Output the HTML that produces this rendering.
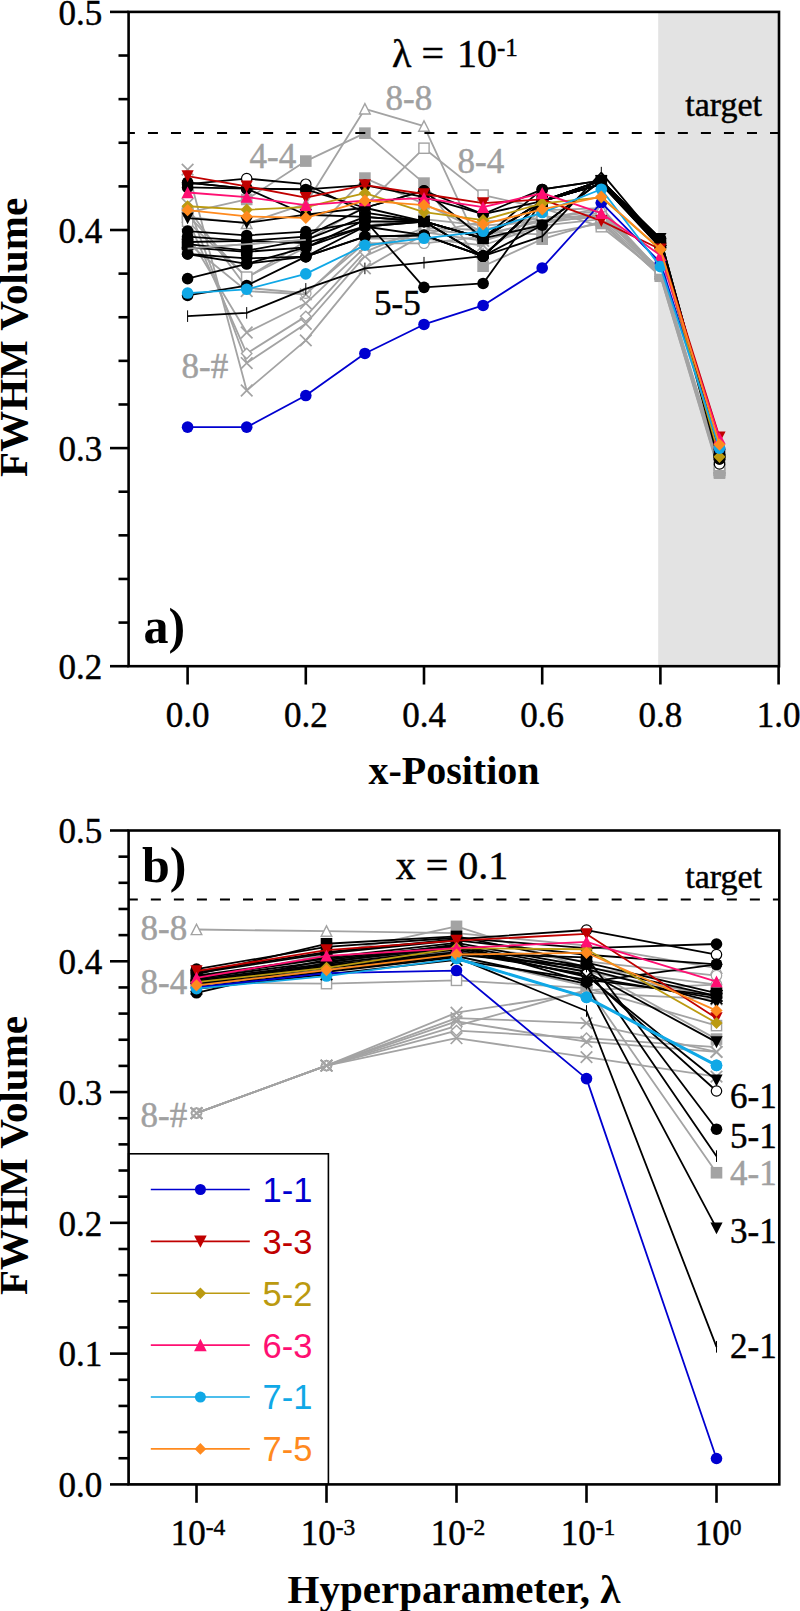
<!DOCTYPE html>
<html><head><meta charset="utf-8"><title>FWHM Volume</title>
<style>html,body{margin:0;padding:0;background:#fff;overflow:hidden;}svg{display:block;}</style>
</head><body>
<svg width="800" height="1611" viewBox="0 0 800 1611"><rect x="658.2" y="11.9" width="120.8" height="654.3" fill="#e3e3e3"/>
<path d="M187.6,169.59 L246.7,390.52 L305.8,340.36 L364.9,268.39 L424,234.36 L483.1,221.28 L542.2,219.09 L601.3,208.19 L660.4,273.62 L719.5,469.91" fill="none" stroke="#a3a3a3" stroke-width="1.8" stroke-linejoin="round"/><path d="M181.8,163.79L193.4,175.39M181.8,175.39L193.4,163.79" stroke="#a3a3a3" stroke-width="1.7" fill="none"/><path d="M240.9,384.72L252.5,396.32M240.9,396.32L252.5,384.72" stroke="#a3a3a3" stroke-width="1.7" fill="none"/><path d="M300,334.56L311.6,346.16M300,346.16L311.6,334.56" stroke="#a3a3a3" stroke-width="1.7" fill="none"/><path d="M359.1,262.59L370.7,274.19M359.1,274.19L370.7,262.59" stroke="#a3a3a3" stroke-width="1.7" fill="none"/><path d="M418.2,228.56L429.8,240.16M418.2,240.16L429.8,228.56" stroke="#a3a3a3" stroke-width="1.7" fill="none"/><path d="M477.3,215.48L488.9,227.08M477.3,227.08L488.9,215.48" stroke="#a3a3a3" stroke-width="1.7" fill="none"/><path d="M536.4,213.29L548,224.89M536.4,224.89L548,213.29" stroke="#a3a3a3" stroke-width="1.7" fill="none"/><path d="M595.5,202.39L607.1,213.99M595.5,213.99L607.1,202.39" stroke="#a3a3a3" stroke-width="1.7" fill="none"/><path d="M654.6,267.82L666.2,279.42M654.6,279.42L666.2,267.82" stroke="#a3a3a3" stroke-width="1.7" fill="none"/><path d="M713.7,464.11L725.3,475.71M713.7,475.71L725.3,464.11" stroke="#a3a3a3" stroke-width="1.7" fill="none"/>
<path d="M187.6,203.83 L246.7,363.04 L305.8,323.78 L364.9,256.17 L424,230 L483.1,234.36 L542.2,221.28 L601.3,212.55 L660.4,271.44 L719.5,467.73" fill="none" stroke="#a3a3a3" stroke-width="1.8" stroke-linejoin="round"/><path d="M181.8,198.03L193.4,209.63M181.8,209.63L193.4,198.03" stroke="#a3a3a3" stroke-width="1.7" fill="none"/><path d="M240.9,357.24L252.5,368.84M240.9,368.84L252.5,357.24" stroke="#a3a3a3" stroke-width="1.7" fill="none"/><path d="M300,317.98L311.6,329.58M300,329.58L311.6,317.98" stroke="#a3a3a3" stroke-width="1.7" fill="none"/><path d="M359.1,250.37L370.7,261.97M359.1,261.97L370.7,250.37" stroke="#a3a3a3" stroke-width="1.7" fill="none"/><path d="M418.2,224.2L429.8,235.8M418.2,235.8L429.8,224.2" stroke="#a3a3a3" stroke-width="1.7" fill="none"/><path d="M477.3,228.56L488.9,240.16M477.3,240.16L488.9,228.56" stroke="#a3a3a3" stroke-width="1.7" fill="none"/><path d="M536.4,215.48L548,227.08M536.4,227.08L548,215.48" stroke="#a3a3a3" stroke-width="1.7" fill="none"/><path d="M595.5,206.75L607.1,218.35M595.5,218.35L607.1,206.75" stroke="#a3a3a3" stroke-width="1.7" fill="none"/><path d="M654.6,265.64L666.2,277.24M654.6,277.24L666.2,265.64" stroke="#a3a3a3" stroke-width="1.7" fill="none"/><path d="M713.7,461.93L725.3,473.53M713.7,473.53L725.3,461.93" stroke="#a3a3a3" stroke-width="1.7" fill="none"/>
<path d="M187.6,219.09 L246.7,353.44 L305.8,316.37 L364.9,251.81 L424,227.82 L483.1,230 L542.2,216.91 L601.3,216.91 L660.4,269.26 L719.5,465.55" fill="none" stroke="#a3a3a3" stroke-width="1.8" stroke-linejoin="round"/><path d="M187.6,213.89L192.8,219.09L187.6,224.29L182.4,219.09Z" fill="#fff" stroke="#a3a3a3" stroke-width="1.4"/><path d="M246.7,348.24L251.9,353.44L246.7,358.64L241.5,353.44Z" fill="#fff" stroke="#a3a3a3" stroke-width="1.4"/><path d="M305.8,311.17L311,316.37L305.8,321.57L300.6,316.37Z" fill="#fff" stroke="#a3a3a3" stroke-width="1.4"/><path d="M364.9,246.61L370.1,251.81L364.9,257.01L359.7,251.81Z" fill="#fff" stroke="#a3a3a3" stroke-width="1.4"/><path d="M424,222.62L429.2,227.82L424,233.02L418.8,227.82Z" fill="#fff" stroke="#a3a3a3" stroke-width="1.4"/><path d="M483.1,224.8L488.3,230L483.1,235.2L477.9,230Z" fill="#fff" stroke="#a3a3a3" stroke-width="1.4"/><path d="M542.2,211.71L547.4,216.91L542.2,222.11L537,216.91Z" fill="#fff" stroke="#a3a3a3" stroke-width="1.4"/><path d="M601.3,211.71L606.5,216.91L601.3,222.11L596.1,216.91Z" fill="#fff" stroke="#a3a3a3" stroke-width="1.4"/><path d="M660.4,264.06L665.6,269.26L660.4,274.46L655.2,269.26Z" fill="#fff" stroke="#a3a3a3" stroke-width="1.4"/><path d="M719.5,460.35L724.7,465.55L719.5,470.75L714.3,465.55Z" fill="#fff" stroke="#a3a3a3" stroke-width="1.4"/>
<path d="M187.6,234.36 L246.7,332.51 L305.8,303.28 L364.9,247.45 L424,232.18 L483.1,240.91 L542.2,223.46 L601.3,214.73 L660.4,273.62 L719.5,469.91" fill="none" stroke="#a3a3a3" stroke-width="1.8" stroke-linejoin="round"/><path d="M181.8,228.56L193.4,240.16M181.8,240.16L193.4,228.56" stroke="#a3a3a3" stroke-width="1.7" fill="none"/><path d="M240.9,326.71L252.5,338.31M240.9,338.31L252.5,326.71" stroke="#a3a3a3" stroke-width="1.7" fill="none"/><path d="M300,297.48L311.6,309.08M300,309.08L311.6,297.48" stroke="#a3a3a3" stroke-width="1.7" fill="none"/><path d="M359.1,241.65L370.7,253.25M359.1,253.25L370.7,241.65" stroke="#a3a3a3" stroke-width="1.7" fill="none"/><path d="M418.2,226.38L429.8,237.98M418.2,237.98L429.8,226.38" stroke="#a3a3a3" stroke-width="1.7" fill="none"/><path d="M477.3,235.1L488.9,246.71M477.3,246.71L488.9,235.1" stroke="#a3a3a3" stroke-width="1.7" fill="none"/><path d="M536.4,217.66L548,229.26M536.4,229.26L548,217.66" stroke="#a3a3a3" stroke-width="1.7" fill="none"/><path d="M595.5,208.93L607.1,220.53M595.5,220.53L607.1,208.93" stroke="#a3a3a3" stroke-width="1.7" fill="none"/><path d="M654.6,267.82L666.2,279.42M654.6,279.42L666.2,267.82" stroke="#a3a3a3" stroke-width="1.7" fill="none"/><path d="M713.7,464.11L725.3,475.71M713.7,475.71L725.3,464.11" stroke="#a3a3a3" stroke-width="1.7" fill="none"/>
<path d="M187.6,208.19 L246.7,287.8 L305.8,293.25 L364.9,243.09 L424,243.3 L483.1,236.54 L542.2,219.09 L601.3,210.37 L660.4,271.44 L719.5,464.02" fill="none" stroke="#a3a3a3" stroke-width="1.8" stroke-linejoin="round"/><circle cx="187.6" cy="208.19" r="5.2" fill="#fff" stroke="#a3a3a3" stroke-width="1.2"/><circle cx="246.7" cy="287.8" r="5.2" fill="#fff" stroke="#a3a3a3" stroke-width="1.2"/><circle cx="305.8" cy="293.25" r="5.2" fill="#fff" stroke="#a3a3a3" stroke-width="1.2"/><circle cx="364.9" cy="243.09" r="5.2" fill="#fff" stroke="#a3a3a3" stroke-width="1.2"/><circle cx="424" cy="243.3" r="5.2" fill="#fff" stroke="#a3a3a3" stroke-width="1.2"/><circle cx="483.1" cy="236.54" r="5.2" fill="#fff" stroke="#a3a3a3" stroke-width="1.2"/><circle cx="542.2" cy="219.09" r="5.2" fill="#fff" stroke="#a3a3a3" stroke-width="1.2"/><circle cx="601.3" cy="210.37" r="5.2" fill="#fff" stroke="#a3a3a3" stroke-width="1.2"/><circle cx="660.4" cy="271.44" r="5.2" fill="#fff" stroke="#a3a3a3" stroke-width="1.2"/><circle cx="719.5" cy="464.02" r="5.2" fill="#fff" stroke="#a3a3a3" stroke-width="1.2"/>
<path d="M187.6,243.09 L246.7,291.07 L305.8,294.34 L364.9,238.72 L424,238.72 L483.1,245.27 L542.2,225.64 L601.3,219.09 L660.4,273.62 L719.5,467.73" fill="none" stroke="#a3a3a3" stroke-width="1.8" stroke-linejoin="round"/><path d="M181.8,237.29L193.4,248.89M181.8,248.89L193.4,237.29" stroke="#a3a3a3" stroke-width="1.7" fill="none"/><path d="M240.9,285.27L252.5,296.87M240.9,296.87L252.5,285.27" stroke="#a3a3a3" stroke-width="1.7" fill="none"/><path d="M300,288.54L311.6,300.14M300,300.14L311.6,288.54" stroke="#a3a3a3" stroke-width="1.7" fill="none"/><path d="M359.1,232.92L370.7,244.52M359.1,244.52L370.7,232.92" stroke="#a3a3a3" stroke-width="1.7" fill="none"/><path d="M418.2,232.92L429.8,244.52M418.2,244.52L429.8,232.92" stroke="#a3a3a3" stroke-width="1.7" fill="none"/><path d="M477.3,239.47L488.9,251.07M477.3,251.07L488.9,239.47" stroke="#a3a3a3" stroke-width="1.7" fill="none"/><path d="M536.4,219.84L548,231.44M536.4,231.44L548,219.84" stroke="#a3a3a3" stroke-width="1.7" fill="none"/><path d="M595.5,213.29L607.1,224.89M595.5,224.89L607.1,213.29" stroke="#a3a3a3" stroke-width="1.7" fill="none"/><path d="M654.6,267.82L666.2,279.42M654.6,279.42L666.2,267.82" stroke="#a3a3a3" stroke-width="1.7" fill="none"/><path d="M713.7,461.93L725.3,473.53M713.7,473.53L725.3,461.93" stroke="#a3a3a3" stroke-width="1.7" fill="none"/>
<path d="M187.6,216.91 L246.7,223.46 L305.8,203.83 L364.9,108.95 L424,126.18 L483.1,253.99 L542.2,210.37 L601.3,208.19 L660.4,271.44 L719.5,467.73" fill="none" stroke="#a3a3a3" stroke-width="1.8" stroke-linejoin="round"/><path d="M182.3,222.01H192.9L187.6,211.61Z" fill="#fff" stroke="#a3a3a3" stroke-width="1.4"/><path d="M241.4,228.56H252L246.7,218.16Z" fill="#fff" stroke="#a3a3a3" stroke-width="1.4"/><path d="M300.5,208.93H311.1L305.8,198.53Z" fill="#fff" stroke="#a3a3a3" stroke-width="1.4"/><path d="M359.6,114.05H370.2L364.9,103.65Z" fill="#fff" stroke="#a3a3a3" stroke-width="1.4"/><path d="M418.7,131.28H429.3L424,120.88Z" fill="#fff" stroke="#a3a3a3" stroke-width="1.4"/><path d="M477.8,259.09H488.4L483.1,248.69Z" fill="#fff" stroke="#a3a3a3" stroke-width="1.4"/><path d="M536.9,215.47H547.5L542.2,205.07Z" fill="#fff" stroke="#a3a3a3" stroke-width="1.4"/><path d="M596,213.29H606.6L601.3,202.89Z" fill="#fff" stroke="#a3a3a3" stroke-width="1.4"/><path d="M655.1,276.54H665.7L660.4,266.14Z" fill="#fff" stroke="#a3a3a3" stroke-width="1.4"/><path d="M714.2,472.83H724.8L719.5,462.43Z" fill="#fff" stroke="#a3a3a3" stroke-width="1.4"/>
<path d="M187.6,214.73 L246.7,277.98 L305.8,240.91 L364.9,206.01 L424,148.21 L483.1,195.1 L542.2,208.19 L601.3,226.73 L660.4,273.62 L719.5,467.73" fill="none" stroke="#a3a3a3" stroke-width="1.8" stroke-linejoin="round"/><rect x="182.5" y="209.63" width="10.2" height="10.2" fill="#fff" stroke="#a3a3a3" stroke-width="1.4"/><rect x="241.6" y="272.88" width="10.2" height="10.2" fill="#fff" stroke="#a3a3a3" stroke-width="1.4"/><rect x="300.7" y="235.8" width="10.2" height="10.2" fill="#fff" stroke="#a3a3a3" stroke-width="1.4"/><rect x="359.8" y="200.91" width="10.2" height="10.2" fill="#fff" stroke="#a3a3a3" stroke-width="1.4"/><rect x="418.9" y="143.11" width="10.2" height="10.2" fill="#fff" stroke="#a3a3a3" stroke-width="1.4"/><rect x="478" y="190" width="10.2" height="10.2" fill="#fff" stroke="#a3a3a3" stroke-width="1.4"/><rect x="537.1" y="203.09" width="10.2" height="10.2" fill="#fff" stroke="#a3a3a3" stroke-width="1.4"/><rect x="596.2" y="221.63" width="10.2" height="10.2" fill="#fff" stroke="#a3a3a3" stroke-width="1.4"/><rect x="655.3" y="268.52" width="10.2" height="10.2" fill="#fff" stroke="#a3a3a3" stroke-width="1.4"/><rect x="714.4" y="462.63" width="10.2" height="10.2" fill="#fff" stroke="#a3a3a3" stroke-width="1.4"/>
<path d="M187.6,212.55 L246.7,199.47 L305.8,161.08 L364.9,133.16 L424,183.11 L483.1,266.2 L542.2,239.16 L601.3,221.28 L660.4,276.24 L719.5,473.18" fill="none" stroke="#a3a3a3" stroke-width="1.8" stroke-linejoin="round"/><rect x="181.8" y="206.75" width="11.6" height="11.6" fill="#a3a3a3"/><rect x="240.9" y="193.67" width="11.6" height="11.6" fill="#a3a3a3"/><rect x="300" y="155.28" width="11.6" height="11.6" fill="#a3a3a3"/><rect x="359.1" y="127.36" width="11.6" height="11.6" fill="#a3a3a3"/><rect x="418.2" y="177.31" width="11.6" height="11.6" fill="#a3a3a3"/><rect x="477.3" y="260.4" width="11.6" height="11.6" fill="#a3a3a3"/><rect x="536.4" y="233.36" width="11.6" height="11.6" fill="#a3a3a3"/><rect x="595.5" y="215.48" width="11.6" height="11.6" fill="#a3a3a3"/><rect x="654.6" y="270.44" width="11.6" height="11.6" fill="#a3a3a3"/><rect x="713.7" y="467.38" width="11.6" height="11.6" fill="#a3a3a3"/>
<path d="M187.6,248.54 L246.7,244.18 L305.8,239.81 L364.9,178.09 L424,203.83 L483.1,232.18 L542.2,234.36 L601.3,223.46 L660.4,275.8 L719.5,472.09" fill="none" stroke="#a3a3a3" stroke-width="1.8" stroke-linejoin="round"/><rect x="181.8" y="242.74" width="11.6" height="11.6" fill="#a3a3a3"/><rect x="240.9" y="238.38" width="11.6" height="11.6" fill="#a3a3a3"/><rect x="300" y="234.01" width="11.6" height="11.6" fill="#a3a3a3"/><rect x="359.1" y="172.29" width="11.6" height="11.6" fill="#a3a3a3"/><rect x="418.2" y="198.03" width="11.6" height="11.6" fill="#a3a3a3"/><rect x="477.3" y="226.38" width="11.6" height="11.6" fill="#a3a3a3"/><rect x="536.4" y="228.56" width="11.6" height="11.6" fill="#a3a3a3"/><rect x="595.5" y="217.66" width="11.6" height="11.6" fill="#a3a3a3"/><rect x="654.6" y="270" width="11.6" height="11.6" fill="#a3a3a3"/><rect x="713.7" y="466.29" width="11.6" height="11.6" fill="#a3a3a3"/>
<path d="M187.6,221.28 L246.7,277.11 L305.8,247.45 L364.9,225.64 L424,219.09 L483.1,225.64 L542.2,221.28 L601.3,216.91 L660.4,269.26 L719.5,465.55" fill="none" stroke="#a3a3a3" stroke-width="1.8" stroke-linejoin="round"/><rect x="182.5" y="216.18" width="10.2" height="10.2" fill="#fff" stroke="#a3a3a3" stroke-width="1.4"/><rect x="241.6" y="272.01" width="10.2" height="10.2" fill="#fff" stroke="#a3a3a3" stroke-width="1.4"/><rect x="300.7" y="242.35" width="10.2" height="10.2" fill="#fff" stroke="#a3a3a3" stroke-width="1.4"/><rect x="359.8" y="220.54" width="10.2" height="10.2" fill="#fff" stroke="#a3a3a3" stroke-width="1.4"/><rect x="418.9" y="213.99" width="10.2" height="10.2" fill="#fff" stroke="#a3a3a3" stroke-width="1.4"/><rect x="478" y="220.54" width="10.2" height="10.2" fill="#fff" stroke="#a3a3a3" stroke-width="1.4"/><rect x="537.1" y="216.18" width="10.2" height="10.2" fill="#fff" stroke="#a3a3a3" stroke-width="1.4"/><rect x="596.2" y="211.81" width="10.2" height="10.2" fill="#fff" stroke="#a3a3a3" stroke-width="1.4"/><rect x="655.3" y="264.16" width="10.2" height="10.2" fill="#fff" stroke="#a3a3a3" stroke-width="1.4"/><rect x="714.4" y="460.45" width="10.2" height="10.2" fill="#fff" stroke="#a3a3a3" stroke-width="1.4"/>
<path d="M187.6,182.67 L246.7,188.56 L305.8,189.43 L364.9,207.75 L424,190.74 L483.1,214.08 L542.2,189.43 L601.3,180.71 L660.4,238.72 L719.5,454.64" fill="none" stroke="#000" stroke-width="1.8" stroke-linejoin="round"/><circle cx="187.6" cy="182.67" r="5.8" fill="#000"/><circle cx="246.7" cy="188.56" r="5.8" fill="#000"/><circle cx="305.8" cy="189.43" r="5.8" fill="#000"/><circle cx="364.9" cy="207.75" r="5.8" fill="#000"/><circle cx="424" cy="190.74" r="5.8" fill="#000"/><circle cx="483.1" cy="214.08" r="5.8" fill="#000"/><circle cx="542.2" cy="189.43" r="5.8" fill="#000"/><circle cx="601.3" cy="180.71" r="5.8" fill="#000"/><circle cx="660.4" cy="238.72" r="5.8" fill="#000"/><circle cx="719.5" cy="454.64" r="5.8" fill="#000"/>
<path d="M187.6,184.2 L246.7,178.53 L305.8,184.2 L364.9,212.55 L424,221.49 L483.1,238.29 L542.2,201.21 L601.3,184.2 L660.4,243.09 L719.5,464.02" fill="none" stroke="#000" stroke-width="1.8" stroke-linejoin="round"/><circle cx="187.6" cy="184.2" r="5.2" fill="#fff" stroke="#000" stroke-width="1.2"/><circle cx="246.7" cy="178.53" r="5.2" fill="#fff" stroke="#000" stroke-width="1.2"/><circle cx="305.8" cy="184.2" r="5.2" fill="#fff" stroke="#000" stroke-width="1.2"/><circle cx="364.9" cy="212.55" r="5.2" fill="#fff" stroke="#000" stroke-width="1.2"/><circle cx="424" cy="221.49" r="5.2" fill="#fff" stroke="#000" stroke-width="1.2"/><circle cx="483.1" cy="238.29" r="5.2" fill="#fff" stroke="#000" stroke-width="1.2"/><circle cx="542.2" cy="201.21" r="5.2" fill="#fff" stroke="#000" stroke-width="1.2"/><circle cx="601.3" cy="184.2" r="5.2" fill="#fff" stroke="#000" stroke-width="1.2"/><circle cx="660.4" cy="243.09" r="5.2" fill="#fff" stroke="#000" stroke-width="1.2"/><circle cx="719.5" cy="464.02" r="5.2" fill="#fff" stroke="#000" stroke-width="1.2"/>
<path d="M187.6,187.47 L246.7,188.56 L305.8,214.73 L364.9,216.91 L424,221.49 L483.1,256.17 L542.2,201.21 L601.3,180.71 L660.4,240.91 L719.5,456.82" fill="none" stroke="#000" stroke-width="1.8" stroke-linejoin="round"/><circle cx="187.6" cy="187.47" r="5.8" fill="#000"/><circle cx="246.7" cy="188.56" r="5.8" fill="#000"/><circle cx="305.8" cy="214.73" r="5.8" fill="#000"/><circle cx="364.9" cy="216.91" r="5.8" fill="#000"/><circle cx="424" cy="221.49" r="5.8" fill="#000"/><circle cx="483.1" cy="256.17" r="5.8" fill="#000"/><circle cx="542.2" cy="201.21" r="5.8" fill="#000"/><circle cx="601.3" cy="180.71" r="5.8" fill="#000"/><circle cx="660.4" cy="240.91" r="5.8" fill="#000"/><circle cx="719.5" cy="456.82" r="5.8" fill="#000"/>
<path d="M187.6,218.22 L246.7,222.8 L305.8,214.73 L364.9,207.75 L424,221.49 L483.1,238.29 L542.2,225.2 L601.3,180.71 L660.4,238.72 L719.5,454.64" fill="none" stroke="#000" stroke-width="1.8" stroke-linejoin="round"/><path d="M181.5,212.42H193.7L187.6,224.32Z" fill="#000"/><path d="M240.6,217H252.8L246.7,228.9Z" fill="#000"/><path d="M299.7,208.93H311.9L305.8,220.83Z" fill="#000"/><path d="M358.8,201.95H371L364.9,213.85Z" fill="#000"/><path d="M417.9,215.69H430.1L424,227.59Z" fill="#000"/><path d="M477,232.49H489.2L483.1,244.39Z" fill="#000"/><path d="M536.1,219.4H548.3L542.2,231.3Z" fill="#000"/><path d="M595.2,174.91H607.4L601.3,186.81Z" fill="#000"/><path d="M654.3,232.92H666.5L660.4,244.82Z" fill="#000"/><path d="M713.4,448.84H725.6L719.5,460.74Z" fill="#000"/>
<path d="M187.6,231.09 L246.7,235.45 L305.8,231.53 L364.9,221.28 L424,221.49 L483.1,256.17 L542.2,201.21 L601.3,184.2 L660.4,245.27 L719.5,456.82" fill="none" stroke="#000" stroke-width="1.8" stroke-linejoin="round"/><circle cx="187.6" cy="231.09" r="5.8" fill="#000"/><circle cx="246.7" cy="235.45" r="5.8" fill="#000"/><circle cx="305.8" cy="231.53" r="5.8" fill="#000"/><circle cx="364.9" cy="221.28" r="5.8" fill="#000"/><circle cx="424" cy="221.49" r="5.8" fill="#000"/><circle cx="483.1" cy="256.17" r="5.8" fill="#000"/><circle cx="542.2" cy="201.21" r="5.8" fill="#000"/><circle cx="601.3" cy="184.2" r="5.8" fill="#000"/><circle cx="660.4" cy="245.27" r="5.8" fill="#000"/><circle cx="719.5" cy="456.82" r="5.8" fill="#000"/>
<path d="M187.6,236.54 L246.7,240.91 L305.8,236.54 L364.9,207.75 L424,190.74 L483.1,238.29 L542.2,189.43 L601.3,180.71 L660.4,243.09 L719.5,454.64" fill="none" stroke="#000" stroke-width="1.8" stroke-linejoin="round"/><circle cx="187.6" cy="236.54" r="5.8" fill="#000"/><circle cx="246.7" cy="240.91" r="5.8" fill="#000"/><circle cx="305.8" cy="236.54" r="5.8" fill="#000"/><circle cx="364.9" cy="207.75" r="5.8" fill="#000"/><circle cx="424" cy="190.74" r="5.8" fill="#000"/><circle cx="483.1" cy="238.29" r="5.8" fill="#000"/><circle cx="542.2" cy="189.43" r="5.8" fill="#000"/><circle cx="601.3" cy="180.71" r="5.8" fill="#000"/><circle cx="660.4" cy="243.09" r="5.8" fill="#000"/><circle cx="719.5" cy="454.64" r="5.8" fill="#000"/>
<path d="M187.6,242 L246.7,240.91 L305.8,243.09 L364.9,226.51 L424,235.23 L483.1,256.17 L542.2,201.21 L601.3,180.71 L660.4,245.27 L719.5,459.01" fill="none" stroke="#000" stroke-width="1.8" stroke-linejoin="round"/><circle cx="187.6" cy="242" r="5.8" fill="#000"/><circle cx="246.7" cy="240.91" r="5.8" fill="#000"/><circle cx="305.8" cy="243.09" r="5.8" fill="#000"/><circle cx="364.9" cy="226.51" r="5.8" fill="#000"/><circle cx="424" cy="235.23" r="5.8" fill="#000"/><circle cx="483.1" cy="256.17" r="5.8" fill="#000"/><circle cx="542.2" cy="201.21" r="5.8" fill="#000"/><circle cx="601.3" cy="180.71" r="5.8" fill="#000"/><circle cx="660.4" cy="245.27" r="5.8" fill="#000"/><circle cx="719.5" cy="459.01" r="5.8" fill="#000"/>
<path d="M187.6,247.45 L246.7,251.81 L305.8,247.45 L364.9,226.51 L424,221.49 L483.1,256.17 L542.2,201.21 L601.3,184.2 L660.4,247.45 L719.5,456.82" fill="none" stroke="#000" stroke-width="1.8" stroke-linejoin="round"/><circle cx="187.6" cy="247.45" r="5.8" fill="#000"/><circle cx="246.7" cy="251.81" r="5.8" fill="#000"/><circle cx="305.8" cy="247.45" r="5.8" fill="#000"/><circle cx="364.9" cy="226.51" r="5.8" fill="#000"/><circle cx="424" cy="221.49" r="5.8" fill="#000"/><circle cx="483.1" cy="256.17" r="5.8" fill="#000"/><circle cx="542.2" cy="201.21" r="5.8" fill="#000"/><circle cx="601.3" cy="184.2" r="5.8" fill="#000"/><circle cx="660.4" cy="247.45" r="5.8" fill="#000"/><circle cx="719.5" cy="456.82" r="5.8" fill="#000"/>
<path d="M187.6,244.18 L246.7,250.72 L305.8,239.81 L364.9,216.91 L424,221.49 L483.1,238.29 L542.2,201.21 L601.3,180.71 L660.4,243.09 L719.5,454.64" fill="none" stroke="#000" stroke-width="1.8" stroke-linejoin="round"/><rect x="181.8" y="238.38" width="11.6" height="11.6" fill="#000"/><rect x="240.9" y="244.92" width="11.6" height="11.6" fill="#000"/><rect x="300" y="234.01" width="11.6" height="11.6" fill="#000"/><rect x="359.1" y="211.11" width="11.6" height="11.6" fill="#000"/><rect x="418.2" y="215.69" width="11.6" height="11.6" fill="#000"/><rect x="477.3" y="232.49" width="11.6" height="11.6" fill="#000"/><rect x="536.4" y="195.41" width="11.6" height="11.6" fill="#000"/><rect x="595.5" y="174.91" width="11.6" height="11.6" fill="#000"/><rect x="654.6" y="237.29" width="11.6" height="11.6" fill="#000"/><rect x="713.7" y="448.84" width="11.6" height="11.6" fill="#000"/>
<path d="M187.6,253.99 L246.7,258.35 L305.8,256.61 L364.9,236.54 L424,235.23 L483.1,256.17 L542.2,201.21 L601.3,184.2 L660.4,245.27 L719.5,456.82" fill="none" stroke="#000" stroke-width="1.8" stroke-linejoin="round"/><circle cx="187.6" cy="253.99" r="5.8" fill="#000"/><circle cx="246.7" cy="258.35" r="5.8" fill="#000"/><circle cx="305.8" cy="256.61" r="5.8" fill="#000"/><circle cx="364.9" cy="236.54" r="5.8" fill="#000"/><circle cx="424" cy="235.23" r="5.8" fill="#000"/><circle cx="483.1" cy="256.17" r="5.8" fill="#000"/><circle cx="542.2" cy="201.21" r="5.8" fill="#000"/><circle cx="601.3" cy="184.2" r="5.8" fill="#000"/><circle cx="660.4" cy="245.27" r="5.8" fill="#000"/><circle cx="719.5" cy="456.82" r="5.8" fill="#000"/>
<path d="M187.6,253.99 L246.7,263.81 L305.8,247.45 L364.9,220.19 L424,287.36 L483.1,283.43 L542.2,201.21 L601.3,184.2 L660.4,247.45 L719.5,456.82" fill="none" stroke="#000" stroke-width="1.8" stroke-linejoin="round"/><circle cx="187.6" cy="253.99" r="5.8" fill="#000"/><circle cx="246.7" cy="263.81" r="5.8" fill="#000"/><circle cx="305.8" cy="247.45" r="5.8" fill="#000"/><circle cx="364.9" cy="220.19" r="5.8" fill="#000"/><circle cx="424" cy="287.36" r="5.8" fill="#000"/><circle cx="483.1" cy="283.43" r="5.8" fill="#000"/><circle cx="542.2" cy="201.21" r="5.8" fill="#000"/><circle cx="601.3" cy="184.2" r="5.8" fill="#000"/><circle cx="660.4" cy="247.45" r="5.8" fill="#000"/><circle cx="719.5" cy="456.82" r="5.8" fill="#000"/>
<path d="M187.6,278.64 L246.7,263.81 L305.8,256.61 L364.9,236.54 L424,235.23 L483.1,256.17 L542.2,225.2 L601.3,180.71 L660.4,245.27 L719.5,459.01" fill="none" stroke="#000" stroke-width="1.8" stroke-linejoin="round"/><circle cx="187.6" cy="278.64" r="5.8" fill="#000"/><circle cx="246.7" cy="263.81" r="5.8" fill="#000"/><circle cx="305.8" cy="256.61" r="5.8" fill="#000"/><circle cx="364.9" cy="236.54" r="5.8" fill="#000"/><circle cx="424" cy="235.23" r="5.8" fill="#000"/><circle cx="483.1" cy="256.17" r="5.8" fill="#000"/><circle cx="542.2" cy="225.2" r="5.8" fill="#000"/><circle cx="601.3" cy="180.71" r="5.8" fill="#000"/><circle cx="660.4" cy="245.27" r="5.8" fill="#000"/><circle cx="719.5" cy="459.01" r="5.8" fill="#000"/>
<path d="M187.6,295.43 L246.7,285.62 L305.8,256.61 L364.9,226.51 L424,221.49 L483.1,238.29 L542.2,201.21 L601.3,180.71 L660.4,243.09 L719.5,456.82" fill="none" stroke="#000" stroke-width="1.8" stroke-linejoin="round"/><circle cx="187.6" cy="295.43" r="5.8" fill="#000"/><circle cx="246.7" cy="285.62" r="5.8" fill="#000"/><circle cx="305.8" cy="256.61" r="5.8" fill="#000"/><circle cx="364.9" cy="226.51" r="5.8" fill="#000"/><circle cx="424" cy="221.49" r="5.8" fill="#000"/><circle cx="483.1" cy="238.29" r="5.8" fill="#000"/><circle cx="542.2" cy="201.21" r="5.8" fill="#000"/><circle cx="601.3" cy="180.71" r="5.8" fill="#000"/><circle cx="660.4" cy="243.09" r="5.8" fill="#000"/><circle cx="719.5" cy="456.82" r="5.8" fill="#000"/>
<path d="M187.6,182.67 L246.7,188.56 L305.8,189.43 L364.9,185.07 L424,197.07 L483.1,214.08 L542.2,201.21 L601.3,180.71 L660.4,238.72 L719.5,454.64" fill="none" stroke="#000" stroke-width="1.8" stroke-linejoin="round"/><circle cx="187.6" cy="182.67" r="5.8" fill="#000"/><circle cx="246.7" cy="188.56" r="5.8" fill="#000"/><circle cx="305.8" cy="189.43" r="5.8" fill="#000"/><circle cx="364.9" cy="185.07" r="5.8" fill="#000"/><circle cx="424" cy="197.07" r="5.8" fill="#000"/><circle cx="483.1" cy="214.08" r="5.8" fill="#000"/><circle cx="542.2" cy="201.21" r="5.8" fill="#000"/><circle cx="601.3" cy="180.71" r="5.8" fill="#000"/><circle cx="660.4" cy="238.72" r="5.8" fill="#000"/><circle cx="719.5" cy="454.64" r="5.8" fill="#000"/>
<path d="M187.6,316.15 L246.7,312.88 L305.8,288.89 L364.9,268.39 L424,262.72 L483.1,256.17 L542.2,236.32 L601.3,172.64 L660.4,243.09 L719.5,456.82" fill="none" stroke="#000" stroke-width="1.8" stroke-linejoin="round"/><path d="M187.6,310.35V321.95" stroke="#000" stroke-width="1" fill="none"/><path d="M246.7,307.08V318.68" stroke="#000" stroke-width="1" fill="none"/><path d="M305.8,283.09V294.69" stroke="#000" stroke-width="1" fill="none"/><path d="M364.9,262.59V274.19" stroke="#000" stroke-width="1" fill="none"/><path d="M424,256.92V268.52" stroke="#000" stroke-width="1" fill="none"/><path d="M483.1,250.37V261.97" stroke="#000" stroke-width="1" fill="none"/><path d="M542.2,230.52V242.12" stroke="#000" stroke-width="1" fill="none"/><path d="M601.3,166.84V178.44" stroke="#000" stroke-width="1" fill="none"/><path d="M660.4,237.29V248.89" stroke="#000" stroke-width="1" fill="none"/><path d="M719.5,451.02V462.62" stroke="#000" stroke-width="1" fill="none"/>
<path d="M187.6,248.54 L246.7,244.18 L305.8,239.81" fill="none" stroke="#a3a3a3" stroke-width="1.8"/>
<path d="M187.6,427.16 L246.7,427.16 L305.8,395.54 L364.9,353.44 L424,324.44 L483.1,305.46 L542.2,267.95 L601.3,202.74 L660.4,262.72 L719.5,448.1" fill="none" stroke="#0000d0" stroke-width="1.8" stroke-linejoin="round"/><circle cx="187.6" cy="427.16" r="5.8" fill="#0000d0"/><circle cx="246.7" cy="427.16" r="5.8" fill="#0000d0"/><circle cx="305.8" cy="395.54" r="5.8" fill="#0000d0"/><circle cx="364.9" cy="353.44" r="5.8" fill="#0000d0"/><circle cx="424" cy="324.44" r="5.8" fill="#0000d0"/><circle cx="483.1" cy="305.46" r="5.8" fill="#0000d0"/><circle cx="542.2" cy="267.95" r="5.8" fill="#0000d0"/><circle cx="601.3" cy="202.74" r="5.8" fill="#0000d0"/><circle cx="660.4" cy="262.72" r="5.8" fill="#0000d0"/><circle cx="719.5" cy="448.1" r="5.8" fill="#0000d0"/>
<path d="M187.6,176.13 L246.7,186.38 L305.8,197.72 L364.9,185.07 L424,194.01 L483.1,203.17 L542.2,199.47 L601.3,220.84 L660.4,249.19 L719.5,437.2" fill="none" stroke="#c00000" stroke-width="1.8" stroke-linejoin="round"/><path d="M181.5,170.33H193.7L187.6,182.23Z" fill="#c00000"/><path d="M240.6,180.58H252.8L246.7,192.48Z" fill="#c00000"/><path d="M299.7,191.92H311.9L305.8,203.82Z" fill="#c00000"/><path d="M358.8,179.27H371L364.9,191.17Z" fill="#c00000"/><path d="M417.9,188.21H430.1L424,200.11Z" fill="#c00000"/><path d="M477,197.37H489.2L483.1,209.27Z" fill="#c00000"/><path d="M536.1,193.67H548.3L542.2,205.57Z" fill="#c00000"/><path d="M595.2,215.04H607.4L601.3,226.94Z" fill="#c00000"/><path d="M654.3,243.39H666.5L660.4,255.29Z" fill="#c00000"/><path d="M713.4,431.4H725.6L719.5,443.3Z" fill="#c00000"/>
<path d="M187.6,206.23 L246.7,209.72 L305.8,207.1 L364.9,193.14 L424,212.12 L483.1,220.19 L542.2,203.39 L601.3,197.29 L660.4,249.63 L719.5,456.82" fill="none" stroke="#bb9a10" stroke-width="1.8" stroke-linejoin="round"/><path d="M187.6,200.13L193.7,206.23L187.6,212.33L181.5,206.23Z" fill="#bb9a10"/><path d="M246.7,203.62L252.8,209.72L246.7,215.82L240.6,209.72Z" fill="#bb9a10"/><path d="M305.8,201L311.9,207.1L305.8,213.2L299.7,207.1Z" fill="#bb9a10"/><path d="M364.9,187.04L371,193.14L364.9,199.24L358.8,193.14Z" fill="#bb9a10"/><path d="M424,206.02L430.1,212.12L424,218.22L417.9,212.12Z" fill="#bb9a10"/><path d="M483.1,214.09L489.2,220.19L483.1,226.29L477,220.19Z" fill="#bb9a10"/><path d="M542.2,197.29L548.3,203.39L542.2,209.49L536.1,203.39Z" fill="#bb9a10"/><path d="M601.3,191.19L607.4,197.29L601.3,203.39L595.2,197.29Z" fill="#bb9a10"/><path d="M660.4,243.53L666.5,249.63L660.4,255.73L654.3,249.63Z" fill="#bb9a10"/><path d="M719.5,450.72L725.6,456.82L719.5,462.92L713.4,456.82Z" fill="#bb9a10"/>
<path d="M187.6,192.49 L246.7,197.07 L305.8,205.14 L364.9,200.56 L424,198.16 L483.1,207.1 L542.2,193.14 L601.3,213.21 L660.4,255.3 L719.5,438.29" fill="none" stroke="#ff0f72" stroke-width="1.8" stroke-linejoin="round"/><path d="M181.5,198.29H193.7L187.6,186.39Z" fill="#ff0f72"/><path d="M240.6,202.87H252.8L246.7,190.97Z" fill="#ff0f72"/><path d="M299.7,210.94H311.9L305.8,199.04Z" fill="#ff0f72"/><path d="M358.8,206.36H371L364.9,194.46Z" fill="#ff0f72"/><path d="M417.9,203.96H430.1L424,192.06Z" fill="#ff0f72"/><path d="M477,212.9H489.2L483.1,201Z" fill="#ff0f72"/><path d="M536.1,198.94H548.3L542.2,187.04Z" fill="#ff0f72"/><path d="M595.2,219.01H607.4L601.3,207.11Z" fill="#ff0f72"/><path d="M654.3,261.1H666.5L660.4,249.2Z" fill="#ff0f72"/><path d="M713.4,444.09H725.6L719.5,432.19Z" fill="#ff0f72"/>
<path d="M187.6,293.03 L246.7,289.32 L305.8,273.84 L364.9,245.27 L424,238.29 L483.1,231.31 L542.2,212.55 L601.3,189.22 L660.4,266.64 L719.5,448.1" fill="none" stroke="#10a8e6" stroke-width="1.8" stroke-linejoin="round"/><circle cx="187.6" cy="293.03" r="5.8" fill="#10a8e6"/><circle cx="246.7" cy="289.32" r="5.8" fill="#10a8e6"/><circle cx="305.8" cy="273.84" r="5.8" fill="#10a8e6"/><circle cx="364.9" cy="245.27" r="5.8" fill="#10a8e6"/><circle cx="424" cy="238.29" r="5.8" fill="#10a8e6"/><circle cx="483.1" cy="231.31" r="5.8" fill="#10a8e6"/><circle cx="542.2" cy="212.55" r="5.8" fill="#10a8e6"/><circle cx="601.3" cy="189.22" r="5.8" fill="#10a8e6"/><circle cx="660.4" cy="266.64" r="5.8" fill="#10a8e6"/><circle cx="719.5" cy="448.1" r="5.8" fill="#10a8e6"/>
<path d="M187.6,210.15 L246.7,216.48 L305.8,217.79 L364.9,200.56 L424,205.14 L483.1,224.33 L542.2,209.28 L601.3,196.63 L660.4,249.19 L719.5,444.61" fill="none" stroke="#ff8a1e" stroke-width="1.8" stroke-linejoin="round"/><path d="M187.6,204.05L193.7,210.15L187.6,216.25L181.5,210.15Z" fill="#ff8a1e"/><path d="M246.7,210.38L252.8,216.48L246.7,222.58L240.6,216.48Z" fill="#ff8a1e"/><path d="M305.8,211.69L311.9,217.79L305.8,223.89L299.7,217.79Z" fill="#ff8a1e"/><path d="M364.9,194.46L371,200.56L364.9,206.66L358.8,200.56Z" fill="#ff8a1e"/><path d="M424,199.04L430.1,205.14L424,211.24L417.9,205.14Z" fill="#ff8a1e"/><path d="M483.1,218.23L489.2,224.33L483.1,230.43L477,224.33Z" fill="#ff8a1e"/><path d="M542.2,203.18L548.3,209.28L542.2,215.38L536.1,209.28Z" fill="#ff8a1e"/><path d="M601.3,190.53L607.4,196.63L601.3,202.73L595.2,196.63Z" fill="#ff8a1e"/><path d="M660.4,243.09L666.5,249.19L660.4,255.29L654.3,249.19Z" fill="#ff8a1e"/><path d="M719.5,438.51L725.6,444.61L719.5,450.71L713.4,444.61Z" fill="#ff8a1e"/>
<line x1="128.6" y1="133" x2="779" y2="133" stroke="#000" stroke-width="1.8" stroke-dasharray="10,13.04" stroke-dashoffset="3.7"/>
<rect x="128.6" y="11.9" width="650.4" height="654.3" fill="none" stroke="#000" stroke-width="2.6"/>
<line x1="110" y1="666.2" x2="128.6" y2="666.2" stroke="#000" stroke-width="2.6"/>
<text x="102.2" y="679" font-family="'Liberation Serif', 'Times New Roman', serif" font-size="35" font-weight="normal" fill="#000" text-anchor="end" stroke="#000" stroke-width="0.45">0.2</text>
<line x1="118.5" y1="622.58" x2="128.6" y2="622.58" stroke="#000" stroke-width="2.6"/>
<line x1="118.5" y1="578.96" x2="128.6" y2="578.96" stroke="#000" stroke-width="2.6"/>
<line x1="118.5" y1="535.34" x2="128.6" y2="535.34" stroke="#000" stroke-width="2.6"/>
<line x1="118.5" y1="491.72" x2="128.6" y2="491.72" stroke="#000" stroke-width="2.6"/>
<line x1="110" y1="448.1" x2="128.6" y2="448.1" stroke="#000" stroke-width="2.6"/>
<text x="102.2" y="460.9" font-family="'Liberation Serif', 'Times New Roman', serif" font-size="35" font-weight="normal" fill="#000" text-anchor="end" stroke="#000" stroke-width="0.45">0.3</text>
<line x1="118.5" y1="404.48" x2="128.6" y2="404.48" stroke="#000" stroke-width="2.6"/>
<line x1="118.5" y1="360.86" x2="128.6" y2="360.86" stroke="#000" stroke-width="2.6"/>
<line x1="118.5" y1="317.24" x2="128.6" y2="317.24" stroke="#000" stroke-width="2.6"/>
<line x1="118.5" y1="273.62" x2="128.6" y2="273.62" stroke="#000" stroke-width="2.6"/>
<line x1="110" y1="230" x2="128.6" y2="230" stroke="#000" stroke-width="2.6"/>
<text x="102.2" y="242.8" font-family="'Liberation Serif', 'Times New Roman', serif" font-size="35" font-weight="normal" fill="#000" text-anchor="end" stroke="#000" stroke-width="0.45">0.4</text>
<line x1="118.5" y1="186.38" x2="128.6" y2="186.38" stroke="#000" stroke-width="2.6"/>
<line x1="118.5" y1="142.76" x2="128.6" y2="142.76" stroke="#000" stroke-width="2.6"/>
<line x1="118.5" y1="99.14" x2="128.6" y2="99.14" stroke="#000" stroke-width="2.6"/>
<line x1="118.5" y1="55.52" x2="128.6" y2="55.52" stroke="#000" stroke-width="2.6"/>
<line x1="110" y1="11.9" x2="128.6" y2="11.9" stroke="#000" stroke-width="2.6"/>
<text x="102.2" y="24.7" font-family="'Liberation Serif', 'Times New Roman', serif" font-size="35" font-weight="normal" fill="#000" text-anchor="end" stroke="#000" stroke-width="0.45">0.5</text>
<line x1="187.6" y1="666.2" x2="187.6" y2="684.5" stroke="#000" stroke-width="2.6"/>
<text x="187.6" y="726.5" font-family="'Liberation Serif', 'Times New Roman', serif" font-size="35" font-weight="normal" fill="#000" text-anchor="middle" stroke="#000" stroke-width="0.45">0.0</text>
<line x1="305.8" y1="666.2" x2="305.8" y2="684.5" stroke="#000" stroke-width="2.6"/>
<text x="305.8" y="726.5" font-family="'Liberation Serif', 'Times New Roman', serif" font-size="35" font-weight="normal" fill="#000" text-anchor="middle" stroke="#000" stroke-width="0.45">0.2</text>
<line x1="424" y1="666.2" x2="424" y2="684.5" stroke="#000" stroke-width="2.6"/>
<text x="424" y="726.5" font-family="'Liberation Serif', 'Times New Roman', serif" font-size="35" font-weight="normal" fill="#000" text-anchor="middle" stroke="#000" stroke-width="0.45">0.4</text>
<line x1="542.2" y1="666.2" x2="542.2" y2="684.5" stroke="#000" stroke-width="2.6"/>
<text x="542.2" y="726.5" font-family="'Liberation Serif', 'Times New Roman', serif" font-size="35" font-weight="normal" fill="#000" text-anchor="middle" stroke="#000" stroke-width="0.45">0.6</text>
<line x1="660.4" y1="666.2" x2="660.4" y2="684.5" stroke="#000" stroke-width="2.6"/>
<text x="660.4" y="726.5" font-family="'Liberation Serif', 'Times New Roman', serif" font-size="35" font-weight="normal" fill="#000" text-anchor="middle" stroke="#000" stroke-width="0.45">0.8</text>
<line x1="778.6" y1="666.2" x2="778.6" y2="684.5" stroke="#000" stroke-width="2.6"/>
<text x="778.6" y="726.5" font-family="'Liberation Serif', 'Times New Roman', serif" font-size="35" font-weight="normal" fill="#000" text-anchor="middle" stroke="#000" stroke-width="0.45">1.0</text>
<text x="454" y="783.8" font-family="'Liberation Serif', 'Times New Roman', serif" font-size="40" font-weight="bold" fill="#000" text-anchor="middle">x-Position</text>
<text transform="translate(27.4,337.4) rotate(-90)" font-family="'Liberation Serif', 'Times New Roman', serif" font-size="41" font-weight="bold" text-anchor="middle">FWHM Volume</text>
<text x="143.5" y="643" font-family="'Liberation Serif', 'Times New Roman', serif" font-size="50" font-weight="bold" fill="#000" text-anchor="start">a)</text>
<text x="392" y="67" font-family="'Liberation Serif', 'Times New Roman', serif" font-size="40" font-weight="normal" fill="#000" text-anchor="start" stroke="#000" stroke-width="0.45">λ = <tspan dx="3">10</tspan><tspan font-size="25" dy="-11.5">-1</tspan></text>
<text x="762" y="115.5" font-family="'Liberation Serif', 'Times New Roman', serif" font-size="34" font-weight="normal" fill="#000" text-anchor="end" stroke="#000" stroke-width="0.45">target</text>
<text x="385.5" y="110.4" font-family="'Liberation Serif', 'Times New Roman', serif" font-size="35" font-weight="normal" fill="#a0a0a0" text-anchor="start" stroke="#a0a0a0" stroke-width="0.45">8-8</text>
<text x="249.5" y="167.5" font-family="'Liberation Serif', 'Times New Roman', serif" font-size="35" font-weight="normal" fill="#a0a0a0" text-anchor="start" stroke="#a0a0a0" stroke-width="0.45">4-4</text>
<text x="457.5" y="173" font-family="'Liberation Serif', 'Times New Roman', serif" font-size="35" font-weight="normal" fill="#a0a0a0" text-anchor="start" stroke="#a0a0a0" stroke-width="0.45">8-4</text>
<text x="374" y="315" font-family="'Liberation Serif', 'Times New Roman', serif" font-size="35" font-weight="normal" fill="#000" text-anchor="start" stroke="#000" stroke-width="0.45">5-5</text>
<text x="181.5" y="378.4" font-family="'Liberation Serif', 'Times New Roman', serif" font-size="35" font-weight="normal" fill="#a0a0a0" text-anchor="start" stroke="#a0a0a0" stroke-width="0.45">8-#</text>
<path d="M196.5,1113.12 L326.5,1065.64 L456.5,1012.68 L586.5,992.67 L716.5,999.47" fill="none" stroke="#a3a3a3" stroke-width="1.8" stroke-linejoin="round"/><path d="M190.7,1107.32L202.3,1118.92M190.7,1118.92L202.3,1107.32" stroke="#a3a3a3" stroke-width="1.7" fill="none"/><path d="M320.7,1059.84L332.3,1071.44M320.7,1071.44L332.3,1059.84" stroke="#a3a3a3" stroke-width="1.7" fill="none"/><path d="M450.7,1006.88L462.3,1018.48M450.7,1018.48L462.3,1006.88" stroke="#a3a3a3" stroke-width="1.7" fill="none"/><path d="M580.7,986.87L592.3,998.47M580.7,998.47L592.3,986.87" stroke="#a3a3a3" stroke-width="1.7" fill="none"/><path d="M710.7,993.67L722.3,1005.27M710.7,1005.27L722.3,993.67" stroke="#a3a3a3" stroke-width="1.7" fill="none"/>
<path d="M196.5,1113.12 L326.5,1065.64 L456.5,1018.17 L586.5,1023.14 L716.5,1051.91" fill="none" stroke="#a3a3a3" stroke-width="1.8" stroke-linejoin="round"/><path d="M190.7,1107.32L202.3,1118.92M190.7,1118.92L202.3,1107.32" stroke="#a3a3a3" stroke-width="1.7" fill="none"/><path d="M320.7,1059.84L332.3,1071.44M320.7,1071.44L332.3,1059.84" stroke="#a3a3a3" stroke-width="1.7" fill="none"/><path d="M450.7,1012.37L462.3,1023.97M450.7,1023.97L462.3,1012.37" stroke="#a3a3a3" stroke-width="1.7" fill="none"/><path d="M580.7,1017.34L592.3,1028.94M580.7,1028.94L592.3,1017.34" stroke="#a3a3a3" stroke-width="1.7" fill="none"/><path d="M710.7,1046.11L722.3,1057.71M710.7,1057.71L722.3,1046.11" stroke="#a3a3a3" stroke-width="1.7" fill="none"/>
<path d="M196.5,1113.12 L326.5,1065.64 L456.5,1025.89 L586.5,990.05 L716.5,984.56" fill="none" stroke="#a3a3a3" stroke-width="1.8" stroke-linejoin="round"/><circle cx="196.5" cy="1113.12" r="5.2" fill="#fff" stroke="#a3a3a3" stroke-width="1.2"/><circle cx="326.5" cy="1065.64" r="5.2" fill="#fff" stroke="#a3a3a3" stroke-width="1.2"/><circle cx="456.5" cy="1025.89" r="5.2" fill="#fff" stroke="#a3a3a3" stroke-width="1.2"/><circle cx="586.5" cy="990.05" r="5.2" fill="#fff" stroke="#a3a3a3" stroke-width="1.2"/><circle cx="716.5" cy="984.56" r="5.2" fill="#fff" stroke="#a3a3a3" stroke-width="1.2"/>
<path d="M196.5,1113.12 L326.5,1065.64 L456.5,1030.59 L586.5,1038.18 L716.5,1047.07" fill="none" stroke="#a3a3a3" stroke-width="1.8" stroke-linejoin="round"/><path d="M196.5,1107.92L201.7,1113.12L196.5,1118.32L191.3,1113.12Z" fill="#fff" stroke="#a3a3a3" stroke-width="1.4"/><path d="M326.5,1060.44L331.7,1065.64L326.5,1070.84L321.3,1065.64Z" fill="#fff" stroke="#a3a3a3" stroke-width="1.4"/><path d="M456.5,1025.39L461.7,1030.59L456.5,1035.79L451.3,1030.59Z" fill="#fff" stroke="#a3a3a3" stroke-width="1.4"/><path d="M586.5,1032.98L591.7,1038.18L586.5,1043.38L581.3,1038.18Z" fill="#fff" stroke="#a3a3a3" stroke-width="1.4"/><path d="M716.5,1041.87L721.7,1047.07L716.5,1052.27L711.3,1047.07Z" fill="#fff" stroke="#a3a3a3" stroke-width="1.4"/>
<path d="M196.5,1113.12 L326.5,1065.64 L456.5,1038.18 L586.5,1057.14 L716.5,1076.63" fill="none" stroke="#a3a3a3" stroke-width="1.8" stroke-linejoin="round"/><path d="M190.7,1107.32L202.3,1118.92M190.7,1118.92L202.3,1107.32" stroke="#a3a3a3" stroke-width="1.7" fill="none"/><path d="M320.7,1059.84L332.3,1071.44M320.7,1071.44L332.3,1059.84" stroke="#a3a3a3" stroke-width="1.7" fill="none"/><path d="M450.7,1032.38L462.3,1043.98M450.7,1043.98L462.3,1032.38" stroke="#a3a3a3" stroke-width="1.7" fill="none"/><path d="M580.7,1051.34L592.3,1062.94M580.7,1062.94L592.3,1051.34" stroke="#a3a3a3" stroke-width="1.7" fill="none"/><path d="M710.7,1070.83L722.3,1082.43M710.7,1082.43L722.3,1070.83" stroke="#a3a3a3" stroke-width="1.7" fill="none"/>
<path d="M196.5,1113.12 L326.5,1065.64 L456.5,1021.44 L586.5,1041.71 L716.5,1051.91" fill="none" stroke="#a3a3a3" stroke-width="1.8" stroke-linejoin="round"/><path d="M190.7,1107.32L202.3,1118.92M190.7,1118.92L202.3,1107.32" stroke="#a3a3a3" stroke-width="1.7" fill="none"/><path d="M320.7,1059.84L332.3,1071.44M320.7,1071.44L332.3,1059.84" stroke="#a3a3a3" stroke-width="1.7" fill="none"/><path d="M450.7,1015.64L462.3,1027.24M450.7,1027.24L462.3,1015.64" stroke="#a3a3a3" stroke-width="1.7" fill="none"/><path d="M580.7,1035.91L592.3,1047.51M580.7,1047.51L592.3,1035.91" stroke="#a3a3a3" stroke-width="1.7" fill="none"/><path d="M710.7,1046.11L722.3,1057.71M710.7,1057.71L722.3,1046.11" stroke="#a3a3a3" stroke-width="1.7" fill="none"/>
<path d="M196.5,929.5 L326.5,931.2 L456.5,933.03 L586.5,945.59 L716.5,968.08" fill="none" stroke="#a3a3a3" stroke-width="1.8" stroke-linejoin="round"/><path d="M191.2,934.6H201.8L196.5,924.2Z" fill="#fff" stroke="#a3a3a3" stroke-width="1.4"/><path d="M321.2,936.3H331.8L326.5,925.9Z" fill="#fff" stroke="#a3a3a3" stroke-width="1.4"/><path d="M451.2,938.13H461.8L456.5,927.73Z" fill="#fff" stroke="#a3a3a3" stroke-width="1.4"/><path d="M581.2,950.69H591.8L586.5,940.29Z" fill="#fff" stroke="#a3a3a3" stroke-width="1.4"/><path d="M711.2,973.18H721.8L716.5,962.78Z" fill="#fff" stroke="#a3a3a3" stroke-width="1.4"/>
<path d="M196.5,982.86 L326.5,983.64 L456.5,980.37 L586.5,988.09 L716.5,1025.62" fill="none" stroke="#a3a3a3" stroke-width="1.8" stroke-linejoin="round"/><rect x="191.4" y="977.76" width="10.2" height="10.2" fill="#fff" stroke="#a3a3a3" stroke-width="1.4"/><rect x="321.4" y="978.54" width="10.2" height="10.2" fill="#fff" stroke="#a3a3a3" stroke-width="1.4"/><rect x="451.4" y="975.27" width="10.2" height="10.2" fill="#fff" stroke="#a3a3a3" stroke-width="1.4"/><rect x="581.4" y="982.99" width="10.2" height="10.2" fill="#fff" stroke="#a3a3a3" stroke-width="1.4"/><rect x="711.4" y="1020.52" width="10.2" height="10.2" fill="#fff" stroke="#a3a3a3" stroke-width="1.4"/>
<path d="M196.5,979.59 L326.5,954.74 L456.5,926.36 L586.5,967.82 L716.5,1039.09" fill="none" stroke="#a3a3a3" stroke-width="1.8" stroke-linejoin="round"/><rect x="190.7" y="973.79" width="11.6" height="11.6" fill="#a3a3a3"/><rect x="320.7" y="948.94" width="11.6" height="11.6" fill="#a3a3a3"/><rect x="450.7" y="920.56" width="11.6" height="11.6" fill="#a3a3a3"/><rect x="580.7" y="962.02" width="11.6" height="11.6" fill="#a3a3a3"/><rect x="710.7" y="1033.29" width="11.6" height="11.6" fill="#a3a3a3"/>
<path d="M196.5,980.9 L326.5,963.9 L456.5,945.59 L586.5,961.28 L716.5,975.54" fill="none" stroke="#a3a3a3" stroke-width="1.8" stroke-linejoin="round"/><circle cx="196.5" cy="980.9" r="5.2" fill="#fff" stroke="#a3a3a3" stroke-width="1.2"/><circle cx="326.5" cy="963.9" r="5.2" fill="#fff" stroke="#a3a3a3" stroke-width="1.2"/><circle cx="456.5" cy="945.59" r="5.2" fill="#fff" stroke="#a3a3a3" stroke-width="1.2"/><circle cx="586.5" cy="961.28" r="5.2" fill="#fff" stroke="#a3a3a3" stroke-width="1.2"/><circle cx="716.5" cy="975.54" r="5.2" fill="#fff" stroke="#a3a3a3" stroke-width="1.2"/>
<path d="M196.5,982.2 L326.5,966.51 L456.5,950.82 L586.5,967.82 L716.5,984.56" fill="none" stroke="#a3a3a3" stroke-width="1.8" stroke-linejoin="round"/><circle cx="196.5" cy="982.2" r="5.2" fill="#fff" stroke="#a3a3a3" stroke-width="1.2"/><circle cx="326.5" cy="966.51" r="5.2" fill="#fff" stroke="#a3a3a3" stroke-width="1.2"/><circle cx="456.5" cy="950.82" r="5.2" fill="#fff" stroke="#a3a3a3" stroke-width="1.2"/><circle cx="586.5" cy="967.82" r="5.2" fill="#fff" stroke="#a3a3a3" stroke-width="1.2"/><circle cx="716.5" cy="984.56" r="5.2" fill="#fff" stroke="#a3a3a3" stroke-width="1.2"/>
<path d="M196.5,980.9 L326.5,962.59 L456.5,949.51 L586.5,971.74 L716.5,995.81" fill="none" stroke="#a3a3a3" stroke-width="1.8" stroke-linejoin="round"/><rect x="191.4" y="975.8" width="10.2" height="10.2" fill="#fff" stroke="#a3a3a3" stroke-width="1.4"/><rect x="321.4" y="957.49" width="10.2" height="10.2" fill="#fff" stroke="#a3a3a3" stroke-width="1.4"/><rect x="451.4" y="944.41" width="10.2" height="10.2" fill="#fff" stroke="#a3a3a3" stroke-width="1.4"/><rect x="581.4" y="966.64" width="10.2" height="10.2" fill="#fff" stroke="#a3a3a3" stroke-width="1.4"/><rect x="711.4" y="990.71" width="10.2" height="10.2" fill="#fff" stroke="#a3a3a3" stroke-width="1.4"/>
<path d="M196.5,983.51 L326.5,969.13 L456.5,956.05 L586.5,986.13 L716.5,1172.75" fill="none" stroke="#a3a3a3" stroke-width="1.8" stroke-linejoin="round"/><rect x="190.7" y="977.71" width="11.6" height="11.6" fill="#a3a3a3"/><rect x="320.7" y="963.33" width="11.6" height="11.6" fill="#a3a3a3"/><rect x="450.7" y="950.25" width="11.6" height="11.6" fill="#a3a3a3"/><rect x="580.7" y="980.33" width="11.6" height="11.6" fill="#a3a3a3"/><rect x="710.7" y="1166.95" width="11.6" height="11.6" fill="#a3a3a3"/>
<path d="M196.5,969.13 L326.5,946.89 L456.5,937.74 L586.5,948.2 L716.5,944.02" fill="none" stroke="#000" stroke-width="1.8" stroke-linejoin="round"/><circle cx="196.5" cy="969.13" r="5.8" fill="#000"/><circle cx="326.5" cy="946.89" r="5.8" fill="#000"/><circle cx="456.5" cy="937.74" r="5.8" fill="#000"/><circle cx="586.5" cy="948.2" r="5.8" fill="#000"/><circle cx="716.5" cy="944.02" r="5.8" fill="#000"/>
<path d="M196.5,971.74 L326.5,952.13 L456.5,939.05 L586.5,930.02 L716.5,954.61" fill="none" stroke="#000" stroke-width="1.8" stroke-linejoin="round"/><circle cx="196.5" cy="971.74" r="5.2" fill="#fff" stroke="#000" stroke-width="1.2"/><circle cx="326.5" cy="952.13" r="5.2" fill="#fff" stroke="#000" stroke-width="1.2"/><circle cx="456.5" cy="939.05" r="5.2" fill="#fff" stroke="#000" stroke-width="1.2"/><circle cx="586.5" cy="930.02" r="5.2" fill="#fff" stroke="#000" stroke-width="1.2"/><circle cx="716.5" cy="954.61" r="5.2" fill="#fff" stroke="#000" stroke-width="1.2"/>
<path d="M196.5,973.05 L326.5,953.43 L456.5,940.36 L586.5,954.74 L716.5,964.29" fill="none" stroke="#000" stroke-width="1.8" stroke-linejoin="round"/><circle cx="196.5" cy="973.05" r="5.8" fill="#000"/><circle cx="326.5" cy="953.43" r="5.8" fill="#000"/><circle cx="456.5" cy="940.36" r="5.8" fill="#000"/><circle cx="586.5" cy="954.74" r="5.8" fill="#000"/><circle cx="716.5" cy="964.29" r="5.8" fill="#000"/>
<path d="M196.5,974.36 L326.5,943.76 L456.5,936.43 L586.5,962.59 L716.5,993.19" fill="none" stroke="#000" stroke-width="1.8" stroke-linejoin="round"/><rect x="190.7" y="968.56" width="11.6" height="11.6" fill="#000"/><rect x="320.7" y="937.96" width="11.6" height="11.6" fill="#000"/><rect x="450.7" y="930.63" width="11.6" height="11.6" fill="#000"/><rect x="580.7" y="956.79" width="11.6" height="11.6" fill="#000"/><rect x="710.7" y="987.39" width="11.6" height="11.6" fill="#000"/>
<path d="M196.5,975.67 L326.5,957.36 L456.5,942.97 L586.5,966.51 L716.5,995.81" fill="none" stroke="#000" stroke-width="1.8" stroke-linejoin="round"/><path d="M190.7,969.87L202.3,981.47M190.7,981.47L202.3,969.87" stroke="#000" stroke-width="1.7" fill="none"/><path d="M320.7,951.56L332.3,963.16M320.7,963.16L332.3,951.56" stroke="#000" stroke-width="1.7" fill="none"/><path d="M450.7,937.17L462.3,948.77M450.7,948.77L462.3,937.17" stroke="#000" stroke-width="1.7" fill="none"/><path d="M580.7,960.71L592.3,972.31M580.7,972.31L592.3,960.71" stroke="#000" stroke-width="1.7" fill="none"/><path d="M710.7,990.01L722.3,1001.61M710.7,1001.61L722.3,990.01" stroke="#000" stroke-width="1.7" fill="none"/>
<path d="M196.5,976.97 L326.5,958.66 L456.5,945.59 L586.5,969.13 L716.5,1002.61" fill="none" stroke="#000" stroke-width="1.8" stroke-linejoin="round"/><path d="M190.4,971.17H202.6L196.5,983.07Z" fill="#000"/><path d="M320.4,952.86H332.6L326.5,964.76Z" fill="#000"/><path d="M450.4,939.79H462.6L456.5,951.69Z" fill="#000"/><path d="M580.4,963.33H592.6L586.5,975.23Z" fill="#000"/><path d="M710.4,996.81H722.6L716.5,1008.71Z" fill="#000"/>
<path d="M196.5,978.28 L326.5,961.28 L456.5,948.2 L586.5,971.74 L716.5,1042.1" fill="none" stroke="#000" stroke-width="1.8" stroke-linejoin="round"/><path d="M190.4,972.48H202.6L196.5,984.38Z" fill="#000"/><path d="M320.4,955.48H332.6L326.5,967.38Z" fill="#000"/><path d="M450.4,942.4H462.6L456.5,954.3Z" fill="#000"/><path d="M580.4,965.94H592.6L586.5,977.84Z" fill="#000"/><path d="M710.4,1036.3H722.6L716.5,1048.2Z" fill="#000"/>
<path d="M196.5,979.59 L326.5,963.9 L456.5,949.51 L586.5,975.67 L716.5,1080.29" fill="none" stroke="#000" stroke-width="1.8" stroke-linejoin="round"/><path d="M190.4,973.79H202.6L196.5,985.69Z" fill="#000"/><path d="M320.4,958.1H332.6L326.5,970Z" fill="#000"/><path d="M450.4,943.71H462.6L456.5,955.61Z" fill="#000"/><path d="M580.4,969.87H592.6L586.5,981.77Z" fill="#000"/><path d="M710.4,1074.49H722.6L716.5,1086.39Z" fill="#000"/>
<path d="M196.5,980.9 L326.5,965.2 L456.5,952.13 L586.5,974.36 L716.5,1091.01" fill="none" stroke="#000" stroke-width="1.8" stroke-linejoin="round"/><circle cx="196.5" cy="980.9" r="5.2" fill="#fff" stroke="#000" stroke-width="1.2"/><circle cx="326.5" cy="965.2" r="5.2" fill="#fff" stroke="#000" stroke-width="1.2"/><circle cx="456.5" cy="952.13" r="5.2" fill="#fff" stroke="#000" stroke-width="1.2"/><circle cx="586.5" cy="974.36" r="5.2" fill="#fff" stroke="#000" stroke-width="1.2"/><circle cx="716.5" cy="1091.01" r="5.2" fill="#fff" stroke="#000" stroke-width="1.2"/>
<path d="M196.5,982.2 L326.5,966.51 L456.5,953.43 L586.5,957.36 L716.5,1129.2" fill="none" stroke="#000" stroke-width="1.8" stroke-linejoin="round"/><circle cx="196.5" cy="982.2" r="5.8" fill="#000"/><circle cx="326.5" cy="966.51" r="5.8" fill="#000"/><circle cx="456.5" cy="953.43" r="5.8" fill="#000"/><circle cx="586.5" cy="957.36" r="5.8" fill="#000"/><circle cx="716.5" cy="1129.2" r="5.8" fill="#000"/>
<path d="M196.5,983.51 L326.5,967.82 L456.5,954.74 L586.5,966.51 L716.5,1156.14" fill="none" stroke="#000" stroke-width="1.8" stroke-linejoin="round"/><path d="M196.5,977.71V989.31" stroke="#000" stroke-width="1" fill="none"/><path d="M326.5,962.02V973.62" stroke="#000" stroke-width="1" fill="none"/><path d="M456.5,948.94V960.54" stroke="#000" stroke-width="1" fill="none"/><path d="M586.5,960.71V972.31" stroke="#000" stroke-width="1" fill="none"/><path d="M716.5,1150.34V1161.94" stroke="#000" stroke-width="1" fill="none"/>
<path d="M196.5,984.82 L326.5,970.43 L456.5,956.05 L586.5,983.9 L716.5,1228.2" fill="none" stroke="#000" stroke-width="1.8" stroke-linejoin="round"/><path d="M190.4,979.02H202.6L196.5,990.92Z" fill="#000"/><path d="M320.4,964.63H332.6L326.5,976.53Z" fill="#000"/><path d="M450.4,950.25H462.6L456.5,962.15Z" fill="#000"/><path d="M580.4,978.1H592.6L586.5,990Z" fill="#000"/><path d="M710.4,1222.4H722.6L716.5,1234.3Z" fill="#000"/>
<path d="M196.5,987.44 L326.5,971.74 L456.5,957.36 L586.5,1010.98 L716.5,1346.82" fill="none" stroke="#000" stroke-width="1.8" stroke-linejoin="round"/><path d="M196.5,981.64V993.24" stroke="#000" stroke-width="1" fill="none"/><path d="M326.5,965.94V977.54" stroke="#000" stroke-width="1" fill="none"/><path d="M456.5,951.56V963.16" stroke="#000" stroke-width="1" fill="none"/><path d="M586.5,1005.18V1016.78" stroke="#000" stroke-width="1" fill="none"/><path d="M716.5,1341.02V1352.62" stroke="#000" stroke-width="1" fill="none"/>
<path d="M196.5,988.74 L326.5,974.36 L456.5,959.97 L586.5,979.59 L716.5,995.81" fill="none" stroke="#000" stroke-width="1.8" stroke-linejoin="round"/><path d="M190.7,982.94L202.3,994.54M190.7,994.54L202.3,982.94" stroke="#000" stroke-width="1.7" fill="none"/><path d="M320.7,968.56L332.3,980.16M320.7,980.16L332.3,968.56" stroke="#000" stroke-width="1.7" fill="none"/><path d="M450.7,954.17L462.3,965.77M450.7,965.77L462.3,954.17" stroke="#000" stroke-width="1.7" fill="none"/><path d="M580.7,973.79L592.3,985.39M580.7,985.39L592.3,973.79" stroke="#000" stroke-width="1.7" fill="none"/><path d="M710.7,990.01L722.3,1001.61M710.7,1001.61L722.3,990.01" stroke="#000" stroke-width="1.7" fill="none"/>
<path d="M196.5,986.13 L326.5,959.97 L456.5,946.89 L586.5,976.97 L716.5,998.42" fill="none" stroke="#000" stroke-width="1.8" stroke-linejoin="round"/><path d="M190.7,980.33L202.3,991.93M190.7,991.93L202.3,980.33" stroke="#000" stroke-width="1.7" fill="none"/><path d="M320.7,954.17L332.3,965.77M320.7,965.77L332.3,954.17" stroke="#000" stroke-width="1.7" fill="none"/><path d="M450.7,941.09L462.3,952.69M450.7,952.69L462.3,941.09" stroke="#000" stroke-width="1.7" fill="none"/><path d="M580.7,971.17L592.3,982.77M580.7,982.77L592.3,971.17" stroke="#000" stroke-width="1.7" fill="none"/><path d="M710.7,992.62L722.3,1004.22M710.7,1004.22L722.3,992.62" stroke="#000" stroke-width="1.7" fill="none"/>
<path d="M196.5,992.8 L326.5,962.59 L456.5,944.28 L586.5,982.2 L716.5,964.29" fill="none" stroke="#000" stroke-width="1.8" stroke-linejoin="round"/><circle cx="196.5" cy="992.8" r="5.8" fill="#000"/><circle cx="326.5" cy="962.59" r="5.8" fill="#000"/><circle cx="456.5" cy="944.28" r="5.8" fill="#000"/><circle cx="586.5" cy="982.2" r="5.8" fill="#000"/><circle cx="716.5" cy="964.29" r="5.8" fill="#000"/>
<path d="M196.5,987.44 L326.5,973.05 L456.5,970.57 L586.5,1078.59 L716.5,1458.51" fill="none" stroke="#0000d0" stroke-width="1.8" stroke-linejoin="round"/><circle cx="196.5" cy="987.44" r="5.8" fill="#0000d0"/><circle cx="326.5" cy="973.05" r="5.8" fill="#0000d0"/><circle cx="456.5" cy="970.57" r="5.8" fill="#0000d0"/><circle cx="586.5" cy="1078.59" r="5.8" fill="#0000d0"/><circle cx="716.5" cy="1458.51" r="5.8" fill="#0000d0"/>
<path d="M196.5,971.09 L326.5,950.16 L456.5,940.62 L586.5,933.95 L716.5,1018.17" fill="none" stroke="#c00000" stroke-width="1.8" stroke-linejoin="round"/><path d="M190.4,965.29H202.6L196.5,977.19Z" fill="#c00000"/><path d="M320.4,944.36H332.6L326.5,956.26Z" fill="#c00000"/><path d="M450.4,934.82H462.6L456.5,946.72Z" fill="#c00000"/><path d="M580.4,928.15H592.6L586.5,940.05Z" fill="#c00000"/><path d="M710.4,1012.37H722.6L716.5,1024.27Z" fill="#c00000"/>
<path d="M196.5,982.2 L326.5,967.82 L456.5,948.07 L586.5,949.25 L716.5,1023.01" fill="none" stroke="#bb9a10" stroke-width="1.8" stroke-linejoin="round"/><path d="M196.5,976.1L202.6,982.2L196.5,988.3L190.4,982.2Z" fill="#bb9a10"/><path d="M326.5,961.72L332.6,967.82L326.5,973.92L320.4,967.82Z" fill="#bb9a10"/><path d="M456.5,941.97L462.6,948.07L456.5,954.17L450.4,948.07Z" fill="#bb9a10"/><path d="M586.5,943.15L592.6,949.25L586.5,955.35L580.4,949.25Z" fill="#bb9a10"/><path d="M716.5,1016.91L722.6,1023.01L716.5,1029.11L710.4,1023.01Z" fill="#bb9a10"/>
<path d="M196.5,977.89 L326.5,955.79 L456.5,948.2 L586.5,941.79 L716.5,981.55" fill="none" stroke="#ff0f72" stroke-width="1.8" stroke-linejoin="round"/><path d="M190.4,983.69H202.6L196.5,971.79Z" fill="#ff0f72"/><path d="M320.4,961.59H332.6L326.5,949.69Z" fill="#ff0f72"/><path d="M450.4,954H462.6L456.5,942.1Z" fill="#ff0f72"/><path d="M580.4,947.59H592.6L586.5,935.69Z" fill="#ff0f72"/><path d="M710.4,987.35H722.6L716.5,975.45Z" fill="#ff0f72"/>
<path d="M196.5,988.61 L326.5,976.06 L456.5,958.53 L586.5,997.38 L716.5,1065.38" fill="none" stroke="#10a8e6" stroke-width="1.8" stroke-linejoin="round"/><circle cx="196.5" cy="988.61" r="5.8" fill="#10a8e6"/><circle cx="326.5" cy="976.06" r="5.8" fill="#10a8e6"/><circle cx="456.5" cy="958.53" r="5.8" fill="#10a8e6"/><circle cx="586.5" cy="997.38" r="5.8" fill="#10a8e6"/><circle cx="716.5" cy="1065.38" r="5.8" fill="#10a8e6"/>
<path d="M196.5,985.34 L326.5,970.04 L456.5,954.48 L586.5,952.78 L716.5,1010.58" fill="none" stroke="#ff8a1e" stroke-width="1.8" stroke-linejoin="round"/><path d="M196.5,979.24L202.6,985.34L196.5,991.44L190.4,985.34Z" fill="#ff8a1e"/><path d="M326.5,963.94L332.6,970.04L326.5,976.14L320.4,970.04Z" fill="#ff8a1e"/><path d="M456.5,948.38L462.6,954.48L456.5,960.58L450.4,954.48Z" fill="#ff8a1e"/><path d="M586.5,946.68L592.6,952.78L586.5,958.88L580.4,952.78Z" fill="#ff8a1e"/><path d="M716.5,1004.48L722.6,1010.58L716.5,1016.68L710.4,1010.58Z" fill="#ff8a1e"/>
<path d="M456.5,958.53 L586.5,997.38 L716.5,1065.38" fill="none" stroke="#10a8e6" stroke-width="3.0" stroke-linejoin="round"/>
<circle cx="586.5" cy="997.38" r="5.8" fill="#10a8e6"/>
<circle cx="716.5" cy="1065.38" r="5.8" fill="#10a8e6"/>
<line x1="128.6" y1="899.5" x2="779.3" y2="899.5" stroke="#000" stroke-width="1.8" stroke-dasharray="10,13.04" stroke-dashoffset="0.8"/>
<rect x="128.6" y="1153.8" width="199.8" height="330.6" fill="#fff" stroke="#000" stroke-width="1.6"/>
<line x1="150.8" y1="1189.5" x2="249.8" y2="1189.5" stroke="#0000d0" stroke-width="1.6"/>
<circle cx="200.4" cy="1189.5" r="5.5" fill="#0000d0"/>
<text x="262.5" y="1201.9" font-family="'Liberation Sans', Arial, sans-serif" font-size="34.5" font-weight="normal" fill="#0000d0" text-anchor="start">1-1</text>
<line x1="150.8" y1="1241.38" x2="249.8" y2="1241.38" stroke="#c00000" stroke-width="1.6"/>
<path d="M194.1,1235.38H206.7L200.4,1247.68Z" fill="#c00000"/>
<text x="262.5" y="1253.78" font-family="'Liberation Sans', Arial, sans-serif" font-size="34.5" font-weight="normal" fill="#c00000" text-anchor="start">3-3</text>
<line x1="150.8" y1="1293.26" x2="249.8" y2="1293.26" stroke="#bb9a10" stroke-width="1.6"/>
<path d="M200.4,1287.46L206.2,1293.26L200.4,1299.06L194.6,1293.26Z" fill="#bb9a10"/>
<text x="262.5" y="1305.66" font-family="'Liberation Sans', Arial, sans-serif" font-size="34.5" font-weight="normal" fill="#bb9a10" text-anchor="start">5-2</text>
<line x1="150.8" y1="1345.14" x2="249.8" y2="1345.14" stroke="#ff0f72" stroke-width="1.6"/>
<path d="M194.1,1351.14H206.7L200.4,1338.84Z" fill="#ff0f72"/>
<text x="262.5" y="1357.54" font-family="'Liberation Sans', Arial, sans-serif" font-size="34.5" font-weight="normal" fill="#ff0f72" text-anchor="start">6-3</text>
<line x1="150.8" y1="1397.02" x2="249.8" y2="1397.02" stroke="#10a8e6" stroke-width="1.6"/>
<circle cx="200.4" cy="1397.02" r="5.5" fill="#10a8e6"/>
<text x="262.5" y="1409.42" font-family="'Liberation Sans', Arial, sans-serif" font-size="34.5" font-weight="normal" fill="#10a8e6" text-anchor="start">7-1</text>
<line x1="150.8" y1="1448.9" x2="249.8" y2="1448.9" stroke="#ff8a1e" stroke-width="1.6"/>
<path d="M200.4,1443.1L206.2,1448.9L200.4,1454.7L194.6,1448.9Z" fill="#ff8a1e"/>
<text x="262.5" y="1461.3" font-family="'Liberation Sans', Arial, sans-serif" font-size="34.5" font-weight="normal" fill="#ff8a1e" text-anchor="start">7-5</text>
<rect x="128.6" y="830.5" width="650.7" height="653.9" fill="none" stroke="#000" stroke-width="2.6"/>
<line x1="110" y1="1484.4" x2="128.6" y2="1484.4" stroke="#000" stroke-width="2.6"/>
<text x="102.2" y="1497.2" font-family="'Liberation Serif', 'Times New Roman', serif" font-size="35" font-weight="normal" fill="#000" text-anchor="end" stroke="#000" stroke-width="0.45">0.0</text>
<line x1="118.5" y1="1458.24" x2="128.6" y2="1458.24" stroke="#000" stroke-width="2.6"/>
<line x1="118.5" y1="1432.09" x2="128.6" y2="1432.09" stroke="#000" stroke-width="2.6"/>
<line x1="118.5" y1="1405.93" x2="128.6" y2="1405.93" stroke="#000" stroke-width="2.6"/>
<line x1="118.5" y1="1379.78" x2="128.6" y2="1379.78" stroke="#000" stroke-width="2.6"/>
<line x1="110" y1="1353.62" x2="128.6" y2="1353.62" stroke="#000" stroke-width="2.6"/>
<text x="102.2" y="1366.42" font-family="'Liberation Serif', 'Times New Roman', serif" font-size="35" font-weight="normal" fill="#000" text-anchor="end" stroke="#000" stroke-width="0.45">0.1</text>
<line x1="118.5" y1="1327.46" x2="128.6" y2="1327.46" stroke="#000" stroke-width="2.6"/>
<line x1="118.5" y1="1301.31" x2="128.6" y2="1301.31" stroke="#000" stroke-width="2.6"/>
<line x1="118.5" y1="1275.15" x2="128.6" y2="1275.15" stroke="#000" stroke-width="2.6"/>
<line x1="118.5" y1="1249" x2="128.6" y2="1249" stroke="#000" stroke-width="2.6"/>
<line x1="110" y1="1222.84" x2="128.6" y2="1222.84" stroke="#000" stroke-width="2.6"/>
<text x="102.2" y="1235.64" font-family="'Liberation Serif', 'Times New Roman', serif" font-size="35" font-weight="normal" fill="#000" text-anchor="end" stroke="#000" stroke-width="0.45">0.2</text>
<line x1="118.5" y1="1196.68" x2="128.6" y2="1196.68" stroke="#000" stroke-width="2.6"/>
<line x1="118.5" y1="1170.53" x2="128.6" y2="1170.53" stroke="#000" stroke-width="2.6"/>
<line x1="118.5" y1="1144.37" x2="128.6" y2="1144.37" stroke="#000" stroke-width="2.6"/>
<line x1="118.5" y1="1118.22" x2="128.6" y2="1118.22" stroke="#000" stroke-width="2.6"/>
<line x1="110" y1="1092.06" x2="128.6" y2="1092.06" stroke="#000" stroke-width="2.6"/>
<text x="102.2" y="1104.86" font-family="'Liberation Serif', 'Times New Roman', serif" font-size="35" font-weight="normal" fill="#000" text-anchor="end" stroke="#000" stroke-width="0.45">0.3</text>
<line x1="118.5" y1="1065.9" x2="128.6" y2="1065.9" stroke="#000" stroke-width="2.6"/>
<line x1="118.5" y1="1039.75" x2="128.6" y2="1039.75" stroke="#000" stroke-width="2.6"/>
<line x1="118.5" y1="1013.59" x2="128.6" y2="1013.59" stroke="#000" stroke-width="2.6"/>
<line x1="118.5" y1="987.44" x2="128.6" y2="987.44" stroke="#000" stroke-width="2.6"/>
<line x1="110" y1="961.28" x2="128.6" y2="961.28" stroke="#000" stroke-width="2.6"/>
<text x="102.2" y="974.08" font-family="'Liberation Serif', 'Times New Roman', serif" font-size="35" font-weight="normal" fill="#000" text-anchor="end" stroke="#000" stroke-width="0.45">0.4</text>
<line x1="118.5" y1="935.12" x2="128.6" y2="935.12" stroke="#000" stroke-width="2.6"/>
<line x1="118.5" y1="908.97" x2="128.6" y2="908.97" stroke="#000" stroke-width="2.6"/>
<line x1="118.5" y1="882.81" x2="128.6" y2="882.81" stroke="#000" stroke-width="2.6"/>
<line x1="118.5" y1="856.66" x2="128.6" y2="856.66" stroke="#000" stroke-width="2.6"/>
<line x1="110" y1="830.5" x2="128.6" y2="830.5" stroke="#000" stroke-width="2.6"/>
<text x="102.2" y="843.3" font-family="'Liberation Serif', 'Times New Roman', serif" font-size="35" font-weight="normal" fill="#000" text-anchor="end" stroke="#000" stroke-width="0.45">0.5</text>
<line x1="196.5" y1="1484.4" x2="196.5" y2="1502.8" stroke="#000" stroke-width="2.6"/>
<text x="198" y="1545" font-family="'Liberation Serif', 'Times New Roman', serif" font-size="35" font-weight="normal" fill="#000" text-anchor="middle" stroke="#000" stroke-width="0.45">10<tspan font-size="23.5" dy="-10.5">-4</tspan></text>
<line x1="326.5" y1="1484.4" x2="326.5" y2="1502.8" stroke="#000" stroke-width="2.6"/>
<text x="328" y="1545" font-family="'Liberation Serif', 'Times New Roman', serif" font-size="35" font-weight="normal" fill="#000" text-anchor="middle" stroke="#000" stroke-width="0.45">10<tspan font-size="23.5" dy="-10.5">-3</tspan></text>
<line x1="456.5" y1="1484.4" x2="456.5" y2="1502.8" stroke="#000" stroke-width="2.6"/>
<text x="458" y="1545" font-family="'Liberation Serif', 'Times New Roman', serif" font-size="35" font-weight="normal" fill="#000" text-anchor="middle" stroke="#000" stroke-width="0.45">10<tspan font-size="23.5" dy="-10.5">-2</tspan></text>
<line x1="586.5" y1="1484.4" x2="586.5" y2="1502.8" stroke="#000" stroke-width="2.6"/>
<text x="588" y="1545" font-family="'Liberation Serif', 'Times New Roman', serif" font-size="35" font-weight="normal" fill="#000" text-anchor="middle" stroke="#000" stroke-width="0.45">10<tspan font-size="23.5" dy="-10.5">-1</tspan></text>
<line x1="716.5" y1="1484.4" x2="716.5" y2="1502.8" stroke="#000" stroke-width="2.6"/>
<text x="718" y="1545" font-family="'Liberation Serif', 'Times New Roman', serif" font-size="35" font-weight="normal" fill="#000" text-anchor="middle" stroke="#000" stroke-width="0.45">10<tspan font-size="23.5" dy="-10.5">0</tspan></text>
<text x="454" y="1602.5" font-family="'Liberation Serif', 'Times New Roman', serif" font-size="41" font-weight="bold" fill="#000" text-anchor="middle">Hyperparameter, λ</text>
<text transform="translate(27.4,1155.5) rotate(-90)" font-family="'Liberation Serif', 'Times New Roman', serif" font-size="41" font-weight="bold" text-anchor="middle">FWHM Volume</text>
<text x="142" y="882.3" font-family="'Liberation Serif', 'Times New Roman', serif" font-size="50" font-weight="bold" fill="#000" text-anchor="start">b)</text>
<text x="452" y="879.4" font-family="'Liberation Serif', 'Times New Roman', serif" font-size="40" font-weight="normal" fill="#000" text-anchor="middle" stroke="#000" stroke-width="0.45">x = 0.1</text>
<text x="762" y="887.5" font-family="'Liberation Serif', 'Times New Roman', serif" font-size="34" font-weight="normal" fill="#000" text-anchor="end" stroke="#000" stroke-width="0.45">target</text>
<text x="140.5" y="940" font-family="'Liberation Serif', 'Times New Roman', serif" font-size="35" font-weight="normal" fill="#a0a0a0" text-anchor="start" stroke="#a0a0a0" stroke-width="0.45">8-8</text>
<text x="140.5" y="994" font-family="'Liberation Serif', 'Times New Roman', serif" font-size="35" font-weight="normal" fill="#a0a0a0" text-anchor="start" stroke="#a0a0a0" stroke-width="0.45">8-4</text>
<text x="140.5" y="1127" font-family="'Liberation Serif', 'Times New Roman', serif" font-size="35" font-weight="normal" fill="#a0a0a0" text-anchor="start" stroke="#a0a0a0" stroke-width="0.45">8-#</text>
<text x="730" y="1107.5" font-family="'Liberation Serif', 'Times New Roman', serif" font-size="35" font-weight="normal" fill="#000" text-anchor="start" stroke="#000" stroke-width="0.45">6-1</text>
<text x="730" y="1147.5" font-family="'Liberation Serif', 'Times New Roman', serif" font-size="35" font-weight="normal" fill="#000" text-anchor="start" stroke="#000" stroke-width="0.45">5-1</text>
<text x="730" y="1184.5" font-family="'Liberation Serif', 'Times New Roman', serif" font-size="35" font-weight="normal" fill="#a0a0a0" text-anchor="start" stroke="#a0a0a0" stroke-width="0.45">4-1</text>
<text x="730" y="1243" font-family="'Liberation Serif', 'Times New Roman', serif" font-size="35" font-weight="normal" fill="#000" text-anchor="start" stroke="#000" stroke-width="0.45">3-1</text>
<text x="730" y="1357.5" font-family="'Liberation Serif', 'Times New Roman', serif" font-size="35" font-weight="normal" fill="#000" text-anchor="start" stroke="#000" stroke-width="0.45">2-1</text></svg>
</body></html>
